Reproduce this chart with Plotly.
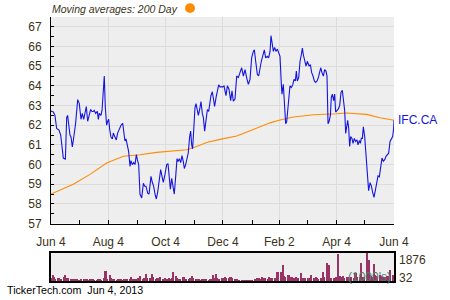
import pandas as pd
import plotly.graph_objects as go

START = "2012-06-04"
END = "2013-06-04"

# ---- price (days after Jun 4 2012, close) ----
price_days = [
    0.0, 2.5, 4.2, 6.0, 8.5, 10.3, 12.1, 13.1, 15.3, 16.7, 17.7, 20.2, 21.3, 22.7, 23.8,
    26.2, 28.4, 30.1, 31.9, 33.3, 34.8, 35.8, 37.6, 39.0, 40.1, 42.2, 43.6, 45.0, 46.1,
    47.5, 49.3, 50.4, 51.4, 53.2, 54.3, 55.7, 56.7, 57.8, 59.2, 60.3, 61.4, 62.4, 63.8,
    65.3, 66.3, 68.1, 69.5, 70.9, 72.7, 74.5, 76.3, 77.7, 78.7, 79.8, 81.6, 82.6, 84.1,
    85.1, 86.5, 88.0, 89.4, 90.8, 91.9, 93.3, 94.7, 96.5, 98.3, 99.7, 101.1, 102.9, 104.3,
    106.4, 107.8, 109.2, 110.7, 112.1, 113.5, 114.9, 116.7, 118.1, 119.5, 121.3, 123.1,
    124.5, 125.6, 127.0, 128.4, 129.8, 131.2, 132.7, 134.1, 135.1, 136.6, 138.0, 139.4,
    140.8, 141.9, 143.3, 144.7, 146.1, 147.5, 148.6, 149.7, 150.7, 151.8, 153.2, 154.3,
    155.4, 156.8, 158.2, 159.6, 161.0, 162.1, 163.5, 164.9, 166.4, 167.8, 168.8, 170.2,
    171.7, 172.7, 174.1, 175.6, 177.0, 178.4, 179.8,
    182.7, 184.1, 186.2, 187.7, 189.4, 191.2, 192.6, 194.0, 195.8, 197.6, 199.4, 201.1,
    202.9, 204.7, 206.5, 208.2, 210.0, 211.8, 213.5, 215.3, 216.4, 217.8, 219.6, 221.0,
    222.4, 223.8, 225.2, 227.0, 228.4, 230.2, 231.6, 233.1, 234.1, 235.5, 236.6, 238.0,
    239.4, 240.9, 242.3, 243.7, 245.1, 245.8, 247.2, 248.7, 249.7, 250.8, 251.9, 253.3,
    254.3, 255.8, 257.2, 258.6, 260.0, 261.1, 262.1, 263.6, 265.0, 266.4, 267.5, 268.5,
    270.0, 271.4, 272.8, 274.6, 276.0, 277.4, 278.8, 280.2, 281.6, 283.1, 284.5, 285.6,
    287.0, 288.4, 289.8, 291.2, 292.6, 293.7, 294.8, 295.8, 297.3, 298.3, 299.4, 300.8,
    301.9, 302.9, 304.3, 305.8, 307.2, 308.6, 310.0, 311.1, 312.5, 313.6, 314.6, 315.7,
    316.8, 317.8, 318.9, 320.3, 321.4, 322.8, 324.2, 325.6, 326.7, 328.1, 329.2, 330.2,
    331.3, 332.4, 333.8, 335.2, 336.6, 338.0, 339.5, 340.9, 342.3, 343.7, 345.1, 346.6,
    348.0, 349.4, 350.8, 352.2, 353.7, 355.1, 356.5, 357.9, 359.3, 360.8, 362.2, 363.6,
    364.6, 365.0,
]
price_vals = [
    62.72, 62.67, 62.5, 61.83, 61.75, 61.5, 60.75, 60.33, 60.28, 62.4, 62.5, 61.5, 61.4, 60.9, 61.25,
    62.1, 63.3, 63.1, 62.3, 62.6, 62.3, 62.5, 62.95, 62.2, 62.4, 62.8, 62.7, 62.7, 62.75,
    62.6, 62.7, 62.3, 62.6, 62.5, 62.75, 64.0, 64.5, 62.9, 62.0, 62.2, 62.3, 61.8, 61.4,
    61.3, 61.6, 61.4, 61.25, 61.6, 61.8, 62.0, 62.1, 61.7, 61.2, 61.3, 60.95, 60.67, 59.9,
    60.2, 60.0, 60.1, 60.0, 60.5, 60.25, 60.0, 58.5, 58.3, 59.05, 58.9, 58.9, 58.55, 58.5,
    59.4, 59.1, 58.9, 58.5, 58.25, 58.6, 59.2, 59.75, 59.4, 59.1, 59.5, 60.0,
    60.05, 59.6, 58.75, 59.3, 58.95, 58.5, 59.4, 60.3, 60.15, 60.3, 60.1, 60.45,
    60.15, 59.8, 60.0, 60.4, 60.6, 61.4, 61.7, 61.0, 60.8, 61.7, 62.9, 63.1,
    62.8, 62.5, 62.8, 63.2, 62.6, 62.4, 61.7, 62.25, 62.8, 62.7, 63.1, 63.5,
    63.7, 63.4, 62.95, 63.4, 63.7, 64.05, 63.95,
    63.95, 64.0, 63.5, 64.0, 63.83, 63.25, 63.75, 63.22, 63.33, 64.5, 64.42, 64.67,
    64.92, 64.5, 64.83, 64.42, 64.08, 64.33, 65.42, 65.75, 65.83, 65.25, 64.58, 64.5,
    64.92, 65.25, 65.5, 65.83, 65.42, 65.5, 65.42, 65.75, 66.55, 65.92, 65.75, 65.95,
    65.75, 65.87, 65.62, 65.5, 64.08, 63.58, 64.08, 63.17, 62.08, 62.17, 62.83, 63.25,
    64.0, 63.92, 64.05, 64.33, 64.25, 64.75, 64.25, 64.42, 65.25, 65.58, 65.92, 65.58,
    65.33, 65.0, 65.25, 65.0, 65.08, 64.67, 64.5, 64.25, 64.17, 64.25, 64.42, 64.67,
    64.92, 64.67, 64.5, 64.83, 64.75, 64.5, 62.08, 62.17, 62.5, 63.42, 63.58, 63.25,
    63.58, 62.67, 62.75, 62.83, 63.0, 63.67, 63.78, 63.42, 62.75, 61.58, 62.08, 62.25,
    61.83, 60.92, 61.42, 61.33, 61.08, 61.33, 61.17, 61.25, 61.0, 61.22, 61.08, 61.33,
    61.33, 61.92, 61.42, 60.42, 59.58, 58.67, 59.08, 58.92, 58.58, 58.33, 58.67, 59.08,
    59.42, 59.38, 60.0, 60.33, 60.17, 60.25, 60.42, 60.5, 60.58, 61.17, 61.33, 61.42,
    61.83, 62.25,
]

# ---- 200 day moving average ----
ma_days = [0, 23.8, 41.5, 59.2, 77.0, 94.7, 112.4, 130.2, 144.4, 155.0, 165.6, 179.8,
           197.6, 215.3, 233.1, 244.8, 257.9, 279.2, 293.4, 304.0, 314.6, 321.7, 335.9,
           350.1, 365]
ma_vals = [58.5, 59.0, 59.5, 60.08, 60.42, 60.5, 60.62, 60.7, 60.75, 60.92, 61.12, 61.28,
           61.45, 61.78, 62.12, 62.28, 62.42, 62.53, 62.55, 62.58, 62.62, 62.6, 62.55,
           62.38, 62.25]

# ---- volume (1000's), one per business day Jun 4 2012 .. Jun 4 2013 ----
volume = [
    180, 230, 440, 260, 150, 210, 120, 250, 170, 140, 300, 430, 200, 160, 220, 130, 110, 180, 90, 150, 120, 100,
    110, 90, 150, 120, 100, 160, 130, 80, 140, 110, 170, 120, 90, 100, 180, 130, 150, 110, 200, 140, 680, 160, 120,
    390, 200, 150, 180, 120, 100, 170, 140, 90, 160, 110, 130, 100, 150, 120, 180, 260, 140, 110, 160, 120,
    150, 200, 170, 330, 180, 220, 160, 480, 240, 190, 210, 480, 260, 200, 170, 230, 150, 190, 260, 180, 140, 200,
    180, 150, 200, 140, 170, 220, 610, 380, 200, 150, 130, 170, 120, 260, 150, 180, 140, 160, 200, 150, 350, 230,
    160, 120, 100, 140, 90, 170, 110, 130, 150, 120, 100, 160, 180, 140, 390, 200, 480, 250, 180, 150, 200,
    200, 170, 260, 230, 250, 180, 260, 200, 240, 180, 150, 130, 100, 70, 60, 50, 80, 60, 40, 50, 70, 90, 60,
    80, 120, 150, 200, 170, 240, 180, 260, 150, 200, 230, 170, 260, 190, 150, 210, 240, 180, 300, 610, 560,
    620, 450, 1090, 350, 300, 440, 420, 280, 230, 300, 250, 200, 260, 220, 190, 545, 240, 210, 180, 230,
    200, 250, 180, 220, 390, 230, 190, 260, 210, 180, 240, 200, 610, 230, 270, 1260, 300, 1090, 250, 200, 230, 180, 260,
    300, 1850, 350, 250, 280, 330, 220, 260, 300, 240, 210, 280, 250, 230, 545, 300, 260, 280, 1260, 320, 270, 310,
    1876, 900, 1420, 400, 350, 300, 1130, 450, 380, 300, 440, 350, 280, 320, 260, 300, 350, 280, 330, 760, 400,
    300,
]

major_ticks = ["2012-06-04", "2012-08-04", "2012-10-04", "2012-12-04", "2013-02-02", "2013-04-04", "2013-06-04"]
major_labels = ["Jun 4", "Aug 4", "Oct 4", "Dec 4", "Feb 2", "Apr 4", "Jun 4"]
minor_ticks = ["2012-07-04", "2012-09-04", "2012-11-04", "2013-01-04", "2013-03-04", "2013-05-04"]

start = pd.Timestamp(START)
price_dates = [start + pd.Timedelta(days=d) for d in price_days]
ma_dates = [start + pd.Timedelta(days=d) for d in ma_days]
vol_dates = pd.bdate_range(START, END)

FONT = "Liberation Sans, Arial, sans-serif"
TXT = "#3b3319"

fig = go.Figure()
fig.add_trace(go.Scatter(x=ma_dates, y=ma_vals, mode="lines",
                         line=dict(color="#FF8C00", width=1.1), xaxis="x", yaxis="y"))
fig.add_trace(go.Scatter(x=price_dates, y=price_vals, mode="lines",
                         line=dict(color="#1414E0", width=1.1), xaxis="x", yaxis="y"))
fig.add_trace(go.Bar(x=vol_dates, y=volume, marker=dict(color="#993366", line=dict(width=0)),
                     width=2.2 * 86400000, xaxis="x2", yaxis="y2"))

xrange = [START, END]
fig.update_layout(
    width=450, height=300,
    margin=dict(l=51, r=56, t=17, b=15),
    paper_bgcolor="white", plot_bgcolor="#EEEEEE",
    showlegend=False, bargap=0,
    font=dict(family=FONT, size=12, color=TXT),
    xaxis=dict(type="date", range=xrange, anchor="y",
               tickvals=major_ticks, ticktext=major_labels,
               ticks="inside", ticklen=4, tickcolor="black",
               showgrid=True, gridcolor="#DCDCDC", gridwidth=1,
               showline=True, linecolor="black", linewidth=1,
               zeroline=False, ticklabelstandoff=7,
               tickfont=dict(size=12, color=TXT),
               minor=dict(tickvals=minor_ticks, ticks="inside", ticklen=4,
                          tickcolor="black", showgrid=False)),
    yaxis=dict(domain=[0.2175, 1], range=[57, 67.5], anchor="x",
               tick0=57, dtick=1, ticks="inside", ticklen=3, tickcolor="black",
               showgrid=True, gridcolor="#DCDCDC", gridwidth=1,
               showline=True, linecolor="black", linewidth=1,
               zeroline=False, ticklabelstandoff=6,
               tickfont=dict(size=12, color=TXT),
               minor=dict(dtick=0.5, ticks="inside", ticklen=3,
                          tickcolor="black", showgrid=False)),
    xaxis2=dict(type="date", range=xrange, anchor="y2",
                showticklabels=False, ticks="", showgrid=False,
                showline=True, mirror=True, linecolor="black", linewidth=1.5,
                zeroline=False),
    yaxis2=dict(domain=[0, 0.1071], range=[0, 1900], anchor="x2",
                showticklabels=False, ticks="", showgrid=False,
                showline=True, mirror=True, linecolor="black", linewidth=1.5,
                zeroline=False),
)

def px_x(x):
    return (x - 51) / 343.0

def px_y(y):
    return (285 - y) / 268.0

ann = [
    dict(text="<i>Moving averages: 200 Day</i>", x=px_x(50), y=px_y(9),
         xanchor="left", yanchor="middle", font=dict(size=10.5, color=TXT)),
    dict(text="IFC.CA", x=px_x(396), y=px_y(121.7), xanchor="left", yanchor="middle",
         font=dict(size=12, color="#1414E0")),
    dict(text="1876", x=px_x(396.5), y=px_y(264), xanchor="left", yanchor="middle",
         font=dict(size=12, color=TXT)),
    dict(text="32", x=px_x(396.5), y=px_y(281.7), xanchor="left", yanchor="middle",
         font=dict(size=12, color=TXT)),
    dict(text="(1000's)", x=px_x(393), y=px_y(281), xanchor="right", yanchor="middle",
         font=dict(size=12, color="#4F8070")),
    dict(text="TickerTech.com  Jun 4, 2013", x=px_x(5), y=px_y(294),
         xanchor="left", yanchor="middle", font=dict(size=10.7, color="black")),
]
for a in ann:
    a.update(xref="paper", yref="paper", showarrow=False)
fig.update_layout(annotations=ann)

fig.add_shape(type="circle", xref="paper", yref="paper",
              x0=px_x(185), x1=px_x(195), y0=px_y(13), y1=px_y(3),
              fillcolor="#FF8C00", line=dict(width=0))

fig.write_html("out.html")
